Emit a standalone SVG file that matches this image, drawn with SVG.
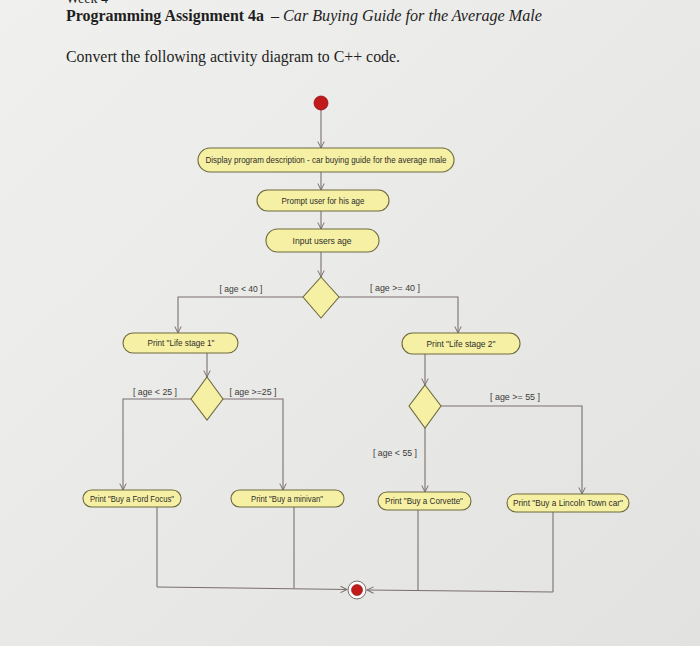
<svg xmlns="http://www.w3.org/2000/svg" width="700" height="646" viewBox="0 0 700 646">
<defs>
<linearGradient id="bg" x1="0" y1="0" x2="1" y2="1">
<stop offset="0" stop-color="#f0f0ee"/>
<stop offset="1" stop-color="#e2e2e0"/>
</linearGradient>
<marker id="arr" markerWidth="8" markerHeight="8" refX="7" refY="4" orient="auto" markerUnits="userSpaceOnUse">
<path d="M0.5,0.8 L7,4 L0.5,7.2" fill="none" stroke="#7a6f70" stroke-width="1"/>
</marker>
<style>
.hdr{font-family:"Liberation Serif","Times New Roman",serif;fill:#1e1e1e}
.box{fill:#f6f0a4;stroke:#6f6a3e;stroke-width:1.1}
.t{font-family:"Liberation Sans",Arial,sans-serif;font-size:8.6px;fill:#2e2e2a;text-anchor:middle}
.lbl{font-family:"Liberation Sans",Arial,sans-serif;font-size:8.6px;fill:#3a3a36;text-anchor:middle}
.ln{fill:none;stroke:#7a6f70;stroke-width:1.1}
.la{fill:none;stroke:#7a6f70;stroke-width:1.1;marker-end:url(#arr)}
</style>
</defs>
<rect width="700" height="646" fill="url(#bg)"/>
<g id="header">
<text class="hdr" x="66" y="3" font-size="14">Week 4</text>
<text class="hdr" x="66" y="21" font-size="16.5" font-weight="bold" textLength="198" lengthAdjust="spacingAndGlyphs">Programming Assignment 4a</text>
<text class="hdr" x="271" y="21" font-size="17" font-style="italic" textLength="271" lengthAdjust="spacingAndGlyphs"><tspan font-style="normal">–</tspan> Car Buying Guide for the Average Male</text>
<text class="hdr" x="66" y="62" font-size="16" textLength="334" lengthAdjust="spacingAndGlyphs">Convert the following activity diagram to C++ code.</text>
</g>
<g id="connectors">
<path class="la" d="M321,110 L321,148"/>
<path class="la" d="M321,172 L321,190"/>
<path class="la" d="M321,211 L321,229"/>
<path class="la" d="M321,252 L321,277"/>
<path class="la" d="M303,297 L178,297 L178,333"/>
<path class="la" d="M339,297 L458,297 L458,333"/>
<path class="la" d="M207,353 L207,377"/>
<path class="la" d="M191,399 L123,399 L123,490"/>
<path class="la" d="M223,399 L283,399 L283,490"/>
<path class="la" d="M425,354 L425,385"/>
<path class="la" d="M441,406 L582,406 L582,494"/>
<path class="la" d="M425,428 L425,492"/>
<path class="ln" d="M157,507 L157,587"/>
<path class="ln" d="M294,507 L294,588"/>
<path class="ln" d="M418,510 L418,590"/>
<path class="ln" d="M553,512 L553,592"/>
<path class="la" d="M157,587 L347,589.5"/>
<path class="la" d="M553,592 L367,590"/>
<text class="lbl" x="241" y="292" textLength="43" lengthAdjust="spacingAndGlyphs">[ age &lt; 40 ]</text>
<text class="lbl" x="395" y="291" textLength="50" lengthAdjust="spacingAndGlyphs">[ age &gt;= 40 ]</text>
<text class="lbl" x="155" y="395" textLength="44" lengthAdjust="spacingAndGlyphs">[ age &lt; 25 ]</text>
<text class="lbl" x="253" y="395" textLength="47" lengthAdjust="spacingAndGlyphs">[ age &gt;=25 ]</text>
<text class="lbl" x="515" y="400" textLength="50" lengthAdjust="spacingAndGlyphs">[ age &gt;= 55 ]</text>
<text class="lbl" x="395" y="456" textLength="44" lengthAdjust="spacingAndGlyphs">[ age &lt; 55 ]</text>
</g>
<g id="start"><circle cx="321" cy="103" r="7" fill="#c21a1a" stroke="#8a1010" stroke-width="0.8"/></g>
<g id="display"><rect class="box" x="198" y="148" width="256" height="24" rx="12"/><text class="t" x="326" y="163" textLength="241" lengthAdjust="spacingAndGlyphs">Display program description - car buying guide for the average male</text></g>
<g id="prompt"><rect class="box" x="257" y="190" width="132" height="21" rx="10.5"/><text class="t" x="323" y="203.5" textLength="83" lengthAdjust="spacingAndGlyphs">Prompt user for his age</text></g>
<g id="input"><rect class="box" x="266" y="229" width="113" height="23" rx="11.5"/><text class="t" x="322" y="243.5" textLength="59" lengthAdjust="spacingAndGlyphs">Input users age</text></g>
<g id="decision1"><polygon class="box" points="321,277 339,297 321,318 303,297"/></g>
<g id="stage1"><rect class="box" x="123" y="333" width="115" height="20" rx="10"/><text class="t" x="181" y="346" textLength="67" lengthAdjust="spacingAndGlyphs">Print "Life stage 1"</text></g>
<g id="stage2"><rect class="box" x="402" y="333" width="118" height="21" rx="10.5"/><text class="t" x="461" y="346.5" textLength="69" lengthAdjust="spacingAndGlyphs">Print "Life stage 2"</text></g>
<g id="decision2"><polygon class="box" points="207,377 223,399 207,420 191,399"/></g>
<g id="decision3"><polygon class="box" points="425,385 441,406 425,428 409,406"/></g>
<g id="ford"><rect class="box" x="83" y="490" width="98" height="17" rx="8.5"/><text class="t" x="132" y="501.5" textLength="84" lengthAdjust="spacingAndGlyphs">Print "Buy a Ford Focus"</text></g>
<g id="minivan"><rect class="box" x="231" y="490" width="113" height="17" rx="8.5"/><text class="t" x="287" y="501.5" textLength="72" lengthAdjust="spacingAndGlyphs">Print "Buy a minivan"</text></g>
<g id="corvette"><rect class="box" x="378" y="492" width="93" height="18" rx="9"/><text class="t" x="424" y="504" textLength="78" lengthAdjust="spacingAndGlyphs">Print "Buy a Corvette"</text></g>
<g id="lincoln"><rect class="box" x="507" y="494" width="122" height="18" rx="9"/><text class="t" x="568" y="506" textLength="110" lengthAdjust="spacingAndGlyphs">Print "Buy a Lincoln Town car"</text></g>
<g id="end"><circle cx="357" cy="590" r="9" fill="#fafafa" stroke="#7a6f70" stroke-width="1"/><circle cx="357" cy="590" r="5.5" fill="#c21a1a" stroke="#8a1010" stroke-width="0.6"/></g>
</svg>
